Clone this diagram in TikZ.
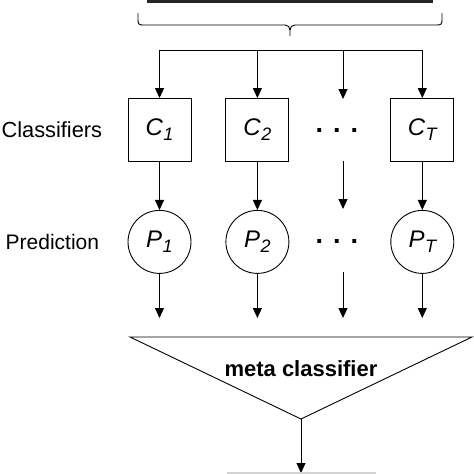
\documentclass[tikz,border=0pt]{standalone}
\usepackage{fontspec}
\setmainfont{Liberation Sans}
\usetikzlibrary{positioning, arrows.meta}

\newcommand{\sublbl}[2]{#1\kern0.5pt\raisebox{-5pt}{\fontsize{18}{20}\selectfont #2}}

\begin{document}
\begin{tikzpicture}[
    x=1pt, y=-1pt,
    line width=0.9pt,
    font=\fontsize{21.8}{25}\selectfont,
    clf/.style={
        draw,
        rectangle,
        minimum size=63pt,
        inner sep=0pt,
        font=\fontsize{24}{28}\selectfont\itshape
    },
    pred/.style={
        draw,
        circle,
        minimum size=63pt,
        inner sep=0pt,
        font=\fontsize{24}{28}\selectfont\itshape
    },
    lbl/.style={inner sep=0pt},
    dots/.style={inner sep=0pt, font=\fontsize{27}{30}\selectfont\bfseries},
    arrow/.style={-{Triangle[length=10pt,width=9pt]}}
]
    \useasboundingbox (0,0) rectangle (474,474);

    % classifiers and predictions
    \node[clf] (C1) at (159.5,130) {\sublbl{C}{1}};
    \node[clf, right=34pt of C1] (C2) {\sublbl{C}{2}};
    \node[clf, right=101pt of C2] (CT) {\sublbl{C}{T}};
    \node[dots] (Cdots) at (337,130) {. . .};

    \node[pred, below=48pt of C1] (P1) {\sublbl{P}{1}};
    \node[pred, below=48pt of C2] (P2) {\sublbl{P}{2}};
    \node[pred, below=48pt of CT] (PT) {\sublbl{P}{T}};
    \node[dots] (Pdots) at (337,241) {. . .};

    \node[lbl, left=25pt of C1] (clflabel) {Classifiers};
    \node[lbl, left=28pt of P1, font=\fontsize{21}{25}\selectfont] (predlabel) {Prediction};

    % data set and brace
    \fill[black!85] (147,0) rectangle (433,2.5);
    \draw (138,13) -- (138,20) .. controls (138,24) and (139,25) .. (143,25)
        -- (285,25) .. controls (288,25) and (290,27) .. (290,30) -- (290,36);
    \draw (442,13) -- (442,20) .. controls (442,24) and (441,25) .. (437,25)
        -- (295,25) .. controls (292,25) and (290,27) .. (290,30);

    % distribution
    \coordinate (busL) at (C1 |- 0,50);
    \coordinate (bus2) at (C2 |- 0,50);
    \coordinate (bus3) at (343,50);
    \coordinate (busR) at (CT |- 0,50);
    \coordinate (in3) at (343,99);
    \draw (busL) -- (busR);
    \draw[arrow] (busL) -- (C1.north);
    \draw[arrow] (bus2) -- (C2.north);
    \draw[arrow] (bus3) -- (in3);
    \draw[arrow] (busR) -- (CT.north);

    % classifiers to predictions
    \coordinate (mid3) at (343,161);
    \coordinate (pin3) at (343,209);
    \draw[arrow] (C1) -- (P1);
    \draw[arrow] (C2) -- (P2);
    \draw[arrow] (mid3) -- (pin3);
    \draw[arrow] (CT) -- (PT);

    % predictions to meta classifier
    \coordinate (m1) at (P1 |- 0,318);
    \coordinate (m2) at (P2 |- 0,318);
    \coordinate (low3) at (343,272);
    \coordinate (m3) at (343,318);
    \coordinate (mT) at (PT |- 0,318);
    \draw[arrow] (P1) -- (m1);
    \draw[arrow] (P2) -- (m2);
    \draw[arrow] (low3) -- (m3);
    \draw[arrow] (PT) -- (mT);

    % meta classifier
    \coordinate (triL) at (130,337);
    \coordinate (triR) at (472,337);
    \coordinate (apex) at (301,419);
    \draw (triL) -- (triR) -- (apex) -- cycle;
    \node[font=\fontsize{22}{26}\selectfont\bfseries] (meta) at (301,369) {meta classifier};

    \coordinate (out) at (301,473);
    \draw[arrow] (apex) -- (out);
    \fill[gray!35] (227,472) rectangle (376,474);
\end{tikzpicture}
\end{document}
